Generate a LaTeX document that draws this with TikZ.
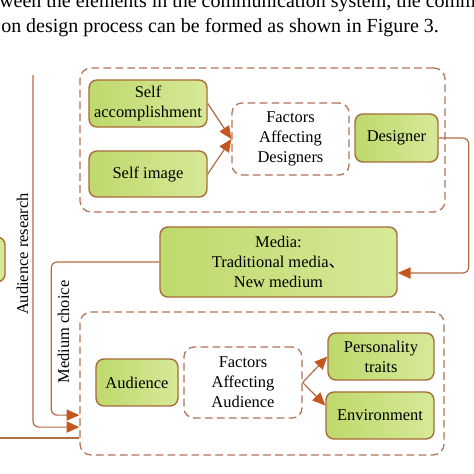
\documentclass[tikz,border=0pt]{standalone}
\usepackage{fontspec}
\setmainfont{Liberation Serif}
\newfontfamily\cjk{Noto Sans CJK SC}
\usetikzlibrary{arrows.meta}
\definecolor{leaf}{RGB}{190,217,108}
\definecolor{leaflight}{RGB}{214,233,152}
\definecolor{edge}{RGB}{168,108,58}
\definecolor{dash}{RGB}{178,114,86}
\definecolor{wire}{RGB}{178,108,68}
\definecolor{rust}{RGB}{196,86,30}

\begin{document}
\begin{tikzpicture}[x=0.025cm, y=-0.025cm,
    font=\fontsize{11.7}{14.3}\selectfont,
    box/.style={draw=edge, line width=1pt, rounded corners=0.2cm, left color=leaf, right color=leaflight, align=center, inner sep=0pt},
    factor/.style={draw=dash, line width=0.9pt, dash pattern=on 5.5pt off 3pt, rounded corners=0.25cm, fill=white, align=center, inner sep=0pt},
    group/.style={draw=dash, line width=0.9pt, dash pattern=on 5.5pt off 3pt, rounded corners=0.28cm, inner sep=0pt},
    link/.style={draw=wire, line width=0.85pt, rounded corners=0.15cm},
    tip/.style={-{Triangle[length=0.32cm, width=0.28cm, color=rust]}}]
        \useasboundingbox (0,0) rectangle (474,474);
        % text above the figure
        \node[anchor=base west, inner sep=0pt, font=\fontsize{14.2}{17}\selectfont] (lineone) at (-1,7) {ween the elements in the communication system, the communi};
        \node[anchor=base west, inner sep=0pt, font=\fontsize{14.2}{17}\selectfont] (linetwo) at (1,32) {on design process can be formed as shown in Figure 3.};
        % groups
        \node[group, minimum width=9.125cm, minimum height=3.6cm] (desgroup) at (262.5,140) {};
        \node[group, minimum width=9.1cm, minimum height=3.575cm] (audgroup) at (262,383.5) {};
        % designer side
        \node[box, minimum width=2.95cm, minimum height=1.175cm] (selfacc) at (148,103.5) {Self\\accomplishment};
        \node[box, minimum width=2.95cm, minimum height=1.15cm] (selfimg) at (148,174) {Self image};
        \node[factor, minimum width=2.925cm, minimum height=1.8cm] (facdes) at (290.5,139) {Factors\\Affecting\\Designers};
        \node[box, minimum width=2.075cm, minimum height=1.2cm] (designer) at (396.5,138) {Designer};
        % media
        \node[box, minimum width=5.925cm, minimum height=1.75cm] (media) at (278.5,262) {Media:\\Traditional media{\cjk 、}\\New medium};
        % audience side
        \node[box, minimum width=2.05cm, minimum height=1.175cm] (audience) at (137,382.5) {Audience};
        \node[factor, minimum width=2.95cm, minimum height=1.775cm] (facaud) at (243,382.5) {Factors\\Affecting\\Audience};
        \node[box, minimum width=2.65cm, minimum height=1.175cm] (traits) at (381,356.5) {Personality\\traits};
        \node[box, minimum width=2.7cm, minimum height=1.175cm] (environ) at (380,415.5) {Environment};
        % box cut by the left margin
        \node[box, minimum width=1.6cm, minimum height=1.125cm] (offbox) at (-27,259.5) {};
        % connectors
        \draw[link, tip] (selfacc.east) -- (facdes.west);
        \draw[link, tip] (selfimg.east) -- (facdes.west);
        \draw[link, tip] (designer.east) -- ++(30,0) |- ([yshift=-0.275cm]media.east);
        \draw[link, tip] (media.west) -- ++(-108,0) |- ([yshift=-0.79cm]audgroup.west);
        \coordinate (resstart) at (33,75);
        \draw[link, tip] (resstart) |- ([yshift=-1.09cm]audgroup.west);
        \coordinate (leftend) at (-10,438);
        \draw[link] (leftend) -- (audgroup.west |- leftend);
        \draw[link, tip] (facaud.east) -- (traits.west);
        \draw[link, tip] (facaud.east) -- ([yshift=0.25cm]environ.west);
        % labels on the lines
        \node[rotate=90, inner sep=0pt] (reslabel) at (22.5,254) {Audience research};
        \node[rotate=90, inner sep=0pt] (choicelabel) at (63.5,332) {Medium choice};
      \end{tikzpicture}
\end{document}
